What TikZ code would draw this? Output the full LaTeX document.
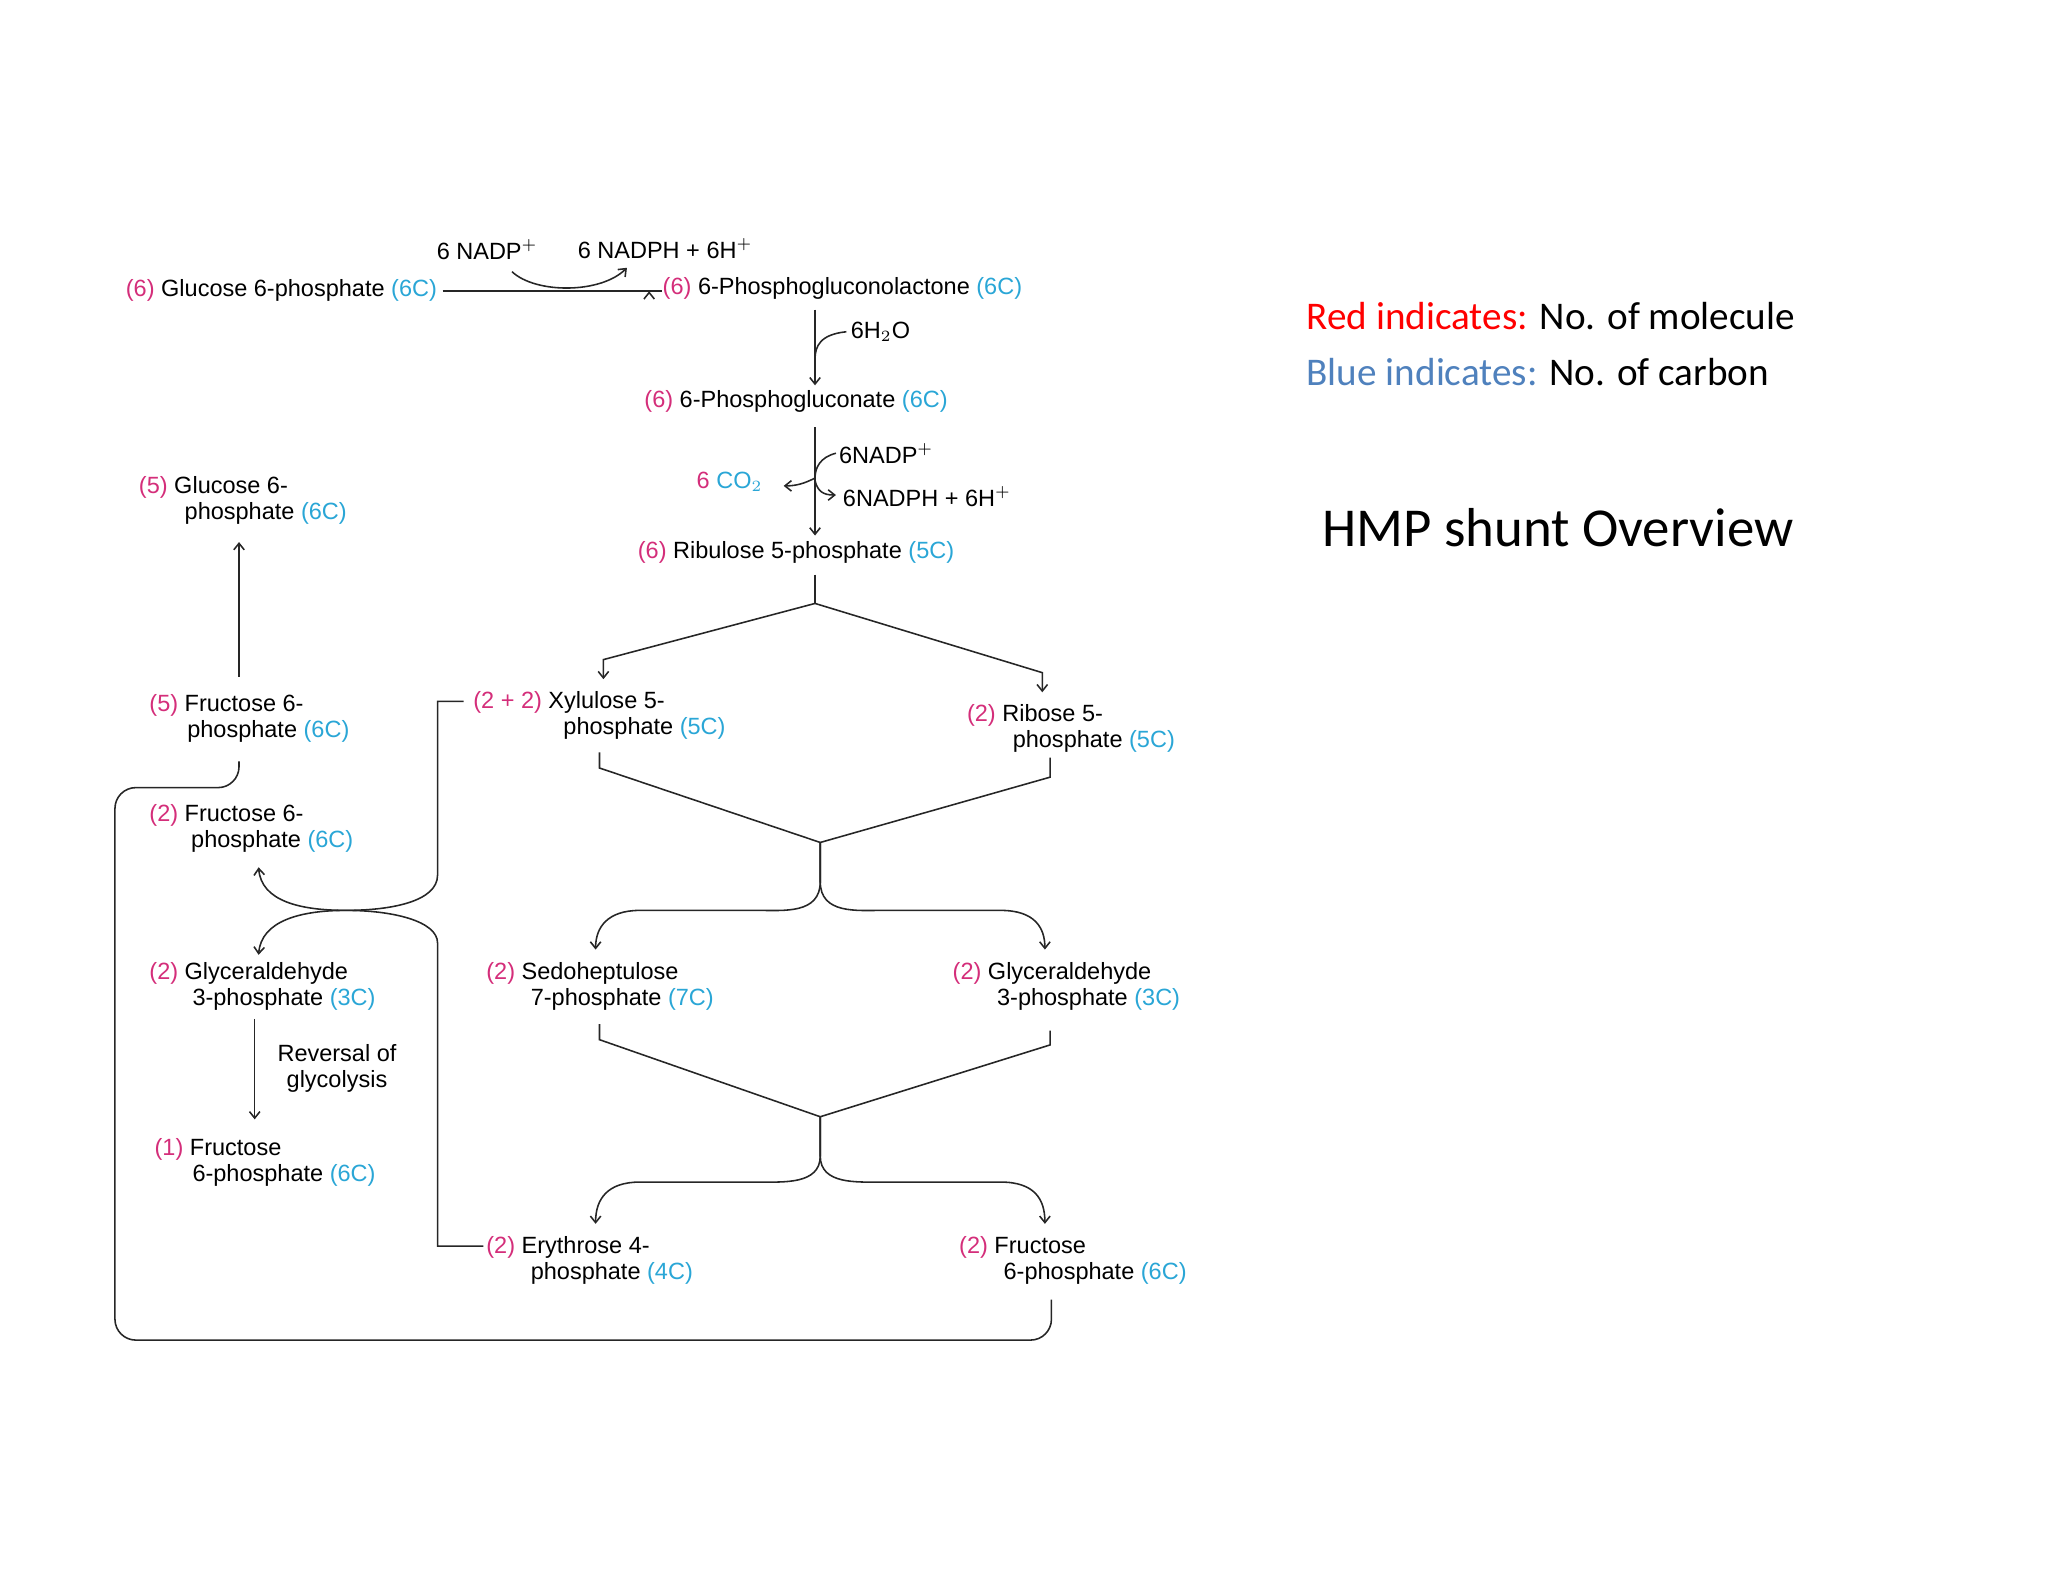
\documentclass[tikz,border=0pt]{standalone}
\usepackage{fontspec}
\setmainfont{Liberation Sans}
\newfontfamily\calfont{Carlito}
\usetikzlibrary{arrows.meta}
\definecolor{mag}{HTML}{D42E7A}
\definecolor{cy}{HTML}{2AA6D6}
\definecolor{lblue}{HTML}{4F81BD}
\newcommand\mm[1]{\textcolor{mag}{(#1)}}
\newcommand\cc[1]{\textcolor{cy}{(#1)}}
\tikzset{t/.style={anchor=west,inner sep=0,font=\fontsize{9}{10}\selectfont,align=left},
 ln/.style={line width=0.6pt,draw=black!85},
 ar/.style={ln,-{Straight Barb[length=2.5pt,width=4pt]}}}
\begin{document}
\begin{tikzpicture}[x=0.5pt,y=-0.5pt]
\useasboundingbox (0,0) rectangle (1568,1211);
% top row
\node[t] (g6p) at (96,222) {\mm{6} Glucose 6-phosphate \cc{6C}};
\node[t] (pgl) at (507,221) {\mm{6} 6-Phosphogluconolactone \cc{6C}};
\node[t] (nadp1) at (334,191) {6 NADP$^+$};
\node[t] (nadph1) at (442,190) {6 NADPH + 6H$^+$};
\draw[ar] (g6p.east)+(4,1) coordinate(a1) -- (pgl.west|-a1) ++(-10,0);
\draw[ar] (392,208) .. controls (410,225) and (460,225) .. (480,205);
% 6PG
\node[t] (pg) at (493,307) {\mm{6} 6-Phosphogluconate \cc{6C}};
\draw[ar] (624,237) -- (624,295);
\node[t] (h2o) at (651,254) {6H$_2$O};
\draw[ln] (648,254) .. controls (628,256) and (624,265) .. (624,275);
% Ru5P
\node[t] (nadp2) at (642,347) {6NADP$^+$};
\node[t] (nadph2) at (645,380) {6NADPH + 6H$^+$};
\node[t] (co2) at (533,369) {\textcolor{mag}{6} \textcolor{cy}{CO$_2$}};
\draw[ar] (624,327) -- (624,410);
\draw[ln] (640,347) .. controls (628,350) and (624,358) .. (624,366);
\draw[ar] (624,366) .. controls (616,370) and (610,372) .. (600,372);
\draw[ar] (624,368) .. controls (626,376) and (630,379) .. (640,379);
\node[t] (ru5p) at (488,423) {\mm{6} Ribulose 5-phosphate \cc{5C}};
% branch 1
\draw[ln] (624,440) -- (624,462) coordinate (b1);
\draw[ar] (b1) -- (462,505) -- (462,520);
\draw[ar] (b1) -- (798,515) -- (798,530);
\node[t] (xu5p) at (362,548) {\mm{2 + 2} Xylulose 5-\\\hspace*{34.5pt}phosphate \cc{5C}};
\node[t] (r5p) at (740,558) {\mm{2} Ribose 5-\\\hspace*{17.5pt}phosphate \cc{5C}};
\draw[ln] (459,576) -- (459,588) -- (628,645) coordinate (m1);
\draw[ln] (804,580) -- (804,595) -- (m1);
\draw[ar] (m1) -- (628,675) .. controls (628,700) and (600,697) .. (580,697) -- (490,697) .. controls (465,697) and (456,710) .. (456,727);
\draw[ar] (m1) -- (628,675) .. controls (628,700) and (656,697) .. (676,697) -- (766,697) .. controls (792,697) and (800,710) .. (800,727);
\node[t] (s7p) at (372,755) {\mm{2} Sedoheptulose\\\hspace*{17pt}7-phosphate \cc{7C}};
\node[t] (gap1) at (729,755) {\mm{2} Glyceraldehyde\\\hspace*{17pt}3-phosphate \cc{3C}};
\draw[ln] (459,784) -- (459,796) -- (628,855) coordinate (m2);
\draw[ln] (804,789) -- (804,800) -- (m2);
\draw[ar] (m2) -- (628,885) .. controls (628,907) and (600,905) .. (580,905) -- (490,905) .. controls (465,905) and (456,918) .. (456,937);
\draw[ar] (m2) -- (628,885) .. controls (628,907) and (656,905) .. (676,905) -- (766,905) .. controls (792,905) and (800,918) .. (800,937);
\node[t] (e4p) at (372,965) {\mm{2} Erythrose 4-\\\hspace*{17pt}phosphate \cc{4C}};
\node[t] (f6p4) at (734,965) {\mm{2} Fructose\\\hspace*{17pt}6-phosphate \cc{6C}};
% left column
\node[t] (g6p5) at (106,383) {\mm{5} Glucose 6-\\\hspace*{17.5pt}phosphate \cc{6C}};
\node[t] (f6p5) at (114,550) {\mm{5} Fructose 6-\\\hspace*{14.5pt}phosphate \cc{6C}};
\draw[ar] (183,518) -- (183,415);
\node[t] (f6p2) at (114,634) {\mm{2} Fructose 6-\\\hspace*{16pt}phosphate \cc{6C}};
\node[t] (gap2) at (114,755) {\mm{2} Glyceraldehyde\\\hspace*{16.5pt}3-phosphate \cc{3C}};
\node[t] (f6p1) at (118,890) {\mm{1} Fructose\\\hspace*{14.5pt}6-phosphate \cc{6C}};
\draw[ar] (195,780) -- (195,857);
\node[inner sep=0,font=\fontsize{9}{10}\selectfont,align=center] (rev) at (258,818) {Reversal of\\glycolysis};
% big loop
\draw[ln,rounded corners=8pt] (183,583) -- (183,603) -- (88,603) -- (88,1026) -- (805,1026) -- (805,995);
% crossing
\draw[ar] (355,537) -- (335,537) -- (335,670) .. controls (335,690) and (300,697) .. (265,697) .. controls (230,697) and (200,690) .. (198,664);
\draw[ar] (370,954) -- (335,954) -- (335,722) .. controls (335,705) and (300,697) .. (265,697) .. controls (230,697) and (200,705) .. (198,731);
% legend
\node[anchor=west,inner sep=0,font=\calfont\fontsize{15}{18}\selectfont] (l1) at (1000,242) {\textcolor{red}{Red indicates:} No. of molecule};
\node[anchor=west,inner sep=0,font=\calfont\fontsize{15}{18}\selectfont] (l2) at (1000,285) {\textcolor{lblue}{Blue indicates:} No. of carbon};
\node[anchor=west,inner sep=0,font=\calfont\fontsize{21}{24}\selectfont] (ttl) at (1012,404) {HMP shunt Overview};
\end{tikzpicture}
\end{document}
